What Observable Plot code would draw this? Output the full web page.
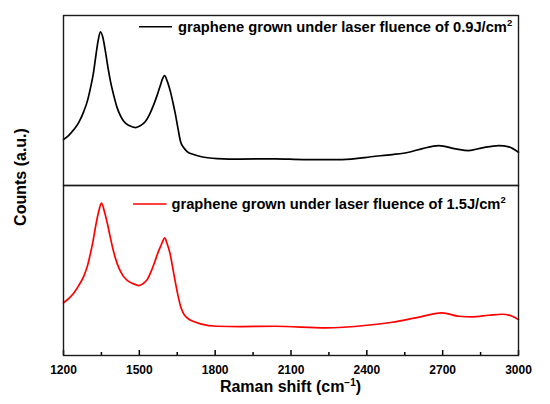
<!DOCTYPE html>
<html>
<head>
<meta charset="utf-8">
<script src="https://cdn.jsdelivr.net/npm/d3@7"></script>
<script src="https://cdn.jsdelivr.net/npm/@observablehq/plot@0.6"></script>
<style>
  html, body { margin: 0; padding: 0; background: #fff; }
  #chart { width: 550px; height: 404px; }
</style>
</head>
<body>
<div id="chart"></div>
<script>
// ---- data ----
const samples = ["0.9J/cm2", "1.5J/cm2"];
const legendLabels = ["graphene grown under laser fluence of 0.9J/cm", "graphene grown under laser fluence of 1.5J/cm"];
const sampleColors = ["#000000", "#ff0000"];
const xTicks = [1200, 1500, 1800, 2100, 2400, 2700, 3000];
const xMinorTicks = [1350, 1650, 1950, 2250, 2550, 2850];

const shiftBlack = [1200,1220,1241,1260,1280,1295,1307,1318,1327,1337,1346,1356,1366,1376,1386,1399,1412,1425,1439,1460,1485,1505,1524,1540,1557,1570,1584,1592,1600,1611,1623,1633,1643,1653,1663,1675,1689,1715,1742,1808,1900,2038,2150,2302,2434,2500,2566,2620,2685,2751,2803,2856,2922,2962,3000];
const countsBlack = [46,50,56,63,74,85,98,112,128,145,154,148,134,118,104,90,78,70,64,60,58,60,64,71,81,90,101,107,110,104,94,83,71,57,44,38,34,31,29,27,26.5,26.7,26,26,29.3,31,33.3,37,40,36.7,35,37.7,40,38.7,33.3];

const shiftRed = [1200,1220,1241,1260,1280,1295,1307,1318,1327,1340,1350,1361,1373,1383,1393,1406,1419,1435,1452,1475,1498,1515,1531,1548,1564,1575,1584,1592,1600,1610,1621,1632,1643,1653,1663,1675,1689,1715,1742,1808,1900,2038,2237,2401,2500,2593,2698,2764,2817,2883,2935,2975,3000];
const countsRed = [52.7,57,62.7,70,79.3,90,102.7,116,129.3,145,152.7,145,132.7,121,109.3,97,87.7,80,75.3,72,70,72,76,85,96,104,109.3,114,117.7,112,102.7,88,72.7,60,49.3,42,37.7,34,31.7,29.3,29,29.3,27.7,30.3,33.3,37.7,42.7,39.3,38.7,40.3,41.3,39.3,36];

// ---- build tables ----
const rows = [
  ...shiftBlack.map((s, i) => ({shift: s, counts: countsBlack[i], sample: samples[0]})),
  ...shiftRed.map((s, i) => ({shift: s, counts: countsRed[i], sample: samples[1]}))
];
const majorRows = xTicks.map(v => ({shift: v, sample: samples[1]}));
const minorRows = xMinorTicks.map(v => ({shift: v, sample: samples[1]}));

const font = "'Liberation Sans', Arial, Helvetica, sans-serif";
const panelH = 170; // facet band height (rounded by Plot)

const svg = Plot.plot({
  width: 550,
  height: 404,
  marginLeft: 63,
  marginRight: 32,
  marginTop: 15,
  marginBottom: 48.5,
  style: {fontFamily: font, fontWeight: "bold", fontSize: "12px", color: "#000", background: "#fff", overflow: "visible"},
  x: {domain: [1200, 3000]},
  y: {domain: [0, 170.25], axis: null},
  fy: {domain: samples, padding: 0, axis: null},
  color: {domain: samples, range: sampleColors},
  marks: [
    Plot.line(rows, {x: "shift", y: "counts", fy: "sample", stroke: "sample", strokeWidth: 1.7, curve: "monotone-x"}),
    Plot.ruleX(majorRows, {x: "shift", fy: "sample", stroke: "#000", strokeWidth: 1.5, insetTop: panelH - 5}),
    Plot.ruleX(minorRows, {x: "shift", fy: "sample", stroke: "#000", strokeWidth: 1.5, insetTop: panelH - 3}),
    Plot.axisX({ticks: xTicks, tickSize: 0, tickPadding: 9.5, tickFormat: d => String(d), label: null, fontSize: 12, fontWeight: "bold"}),
    Plot.frame({stroke: "#1a1a1a", strokeWidth: 1.4})
  ]
});

document.getElementById("chart").appendChild(svg);

// ---- titles and legends ----
const s = d3.select(svg);

const xt = s.append("text")
  .attr("x", 290.5).attr("y", 392)
  .attr("text-anchor", "middle")
  .style("font-family", font).style("font-weight", "bold").style("font-size", "16px").attr("fill", "#000");
xt.append("tspan").text("Raman shift (cm");
xt.append("tspan").text("\u2212" + "1").attr("dy", -6).style("font-size", "10px");
xt.append("tspan").text(")").attr("dy", 6);

s.append("text")
  .attr("transform", "translate(26,177) rotate(-90)")
  .attr("text-anchor", "middle")
  .style("font-family", font).style("font-weight", "bold").style("font-size", "16px").attr("fill", "#000")
  .text("Counts (a.u.)");

const legendPos = [
  {x1: 139, x2: 172, ly: 26.7, tx: 178, ty: 31.8},
  {x1: 133, x2: 166.5, ly: 204, tx: 171.5, ty: 209.3}
];
legendPos.forEach((p, i) => {
  s.append("line").attr("x1", p.x1).attr("x2", p.x2).attr("y1", p.ly).attr("y2", p.ly)
    .attr("stroke", sampleColors[i]).attr("stroke-width", 1.5);
  const t = s.append("text").attr("x", p.tx).attr("y", p.ty)
    .attr("text-anchor", "start")
    .style("font-family", font).style("font-weight", "bold").style("font-size", "14.7px").attr("fill", "#000");
  t.append("tspan").text(legendLabels[i]);
  t.append("tspan").text("2").attr("dy", -6).style("font-size", "9.5px");
});
</script>
</body>
</html>
